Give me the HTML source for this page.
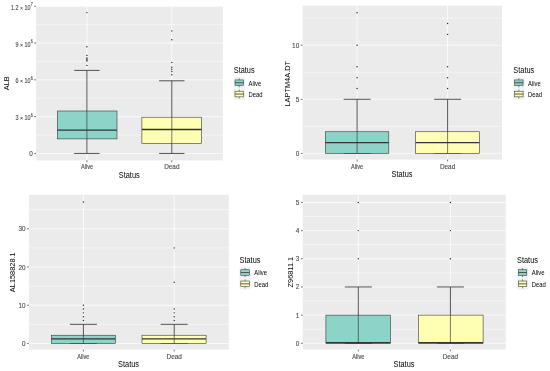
<!DOCTYPE html>
<html><head><meta charset="utf-8"><title>Boxplots</title>
<style>
html,body{margin:0;padding:0;background:#fff}
svg{display:block;filter:blur(0.3px)}
text{font-family:"Liberation Sans",sans-serif}
.tk{font-size:6.4px;fill:#4d4d4d;stroke:#4d4d4d;stroke-width:0.12px}
.ti{font-size:7.4px;fill:#000}
.lg{font-size:6.0px;fill:#000}
</style></head><body>
<svg width="550" height="371" viewBox="0 0 550 371">
<rect width="550" height="371" fill="#fff"/>
<rect x="36.1" y="6.2" width="186.8" height="154.2" fill="#ebebeb"/>
<line x1="36.1" x2="222.9" y1="135.05" y2="135.05" stroke="#fff" stroke-width="0.5"/>
<line x1="36.1" x2="222.9" y1="98.25" y2="98.25" stroke="#fff" stroke-width="0.5"/>
<line x1="36.1" x2="222.9" y1="61.45" y2="61.45" stroke="#fff" stroke-width="0.5"/>
<line x1="36.1" x2="222.9" y1="24.65" y2="24.65" stroke="#fff" stroke-width="0.5"/>
<line x1="36.1" x2="222.9" y1="153.45" y2="153.45" stroke="#fff" stroke-width="0.75"/>
<line x1="36.1" x2="222.9" y1="116.65" y2="116.65" stroke="#fff" stroke-width="0.75"/>
<line x1="36.1" x2="222.9" y1="79.85" y2="79.85" stroke="#fff" stroke-width="0.75"/>
<line x1="36.1" x2="222.9" y1="43.05" y2="43.05" stroke="#fff" stroke-width="0.75"/>
<line x1="36.1" x2="222.9" y1="6.25" y2="6.25" stroke="#fff" stroke-width="0.75"/>
<line x1="87.0" x2="87.0" y1="6.2" y2="160.4" stroke="#fff" stroke-width="0.8"/>
<line x1="171.8" x2="171.8" y1="6.2" y2="160.4" stroke="#fff" stroke-width="0.8"/>
<line x1="34.3" x2="36.1" y1="153.45" y2="153.45" stroke="#333" stroke-width="0.7"/>
<text x="32.7" y="155.95" text-anchor="end" class="tk">0</text>
<line x1="34.3" x2="36.1" y1="116.65" y2="116.65" stroke="#333" stroke-width="0.7"/>
<g transform="translate(36.1,120.25) scale(0.85,1.05)"><text y="0" class="tk"><tspan x="-20.65" text-anchor="end">3</tspan><tspan x="-17.18" text-anchor="middle" font-size="5.2">×</tspan><tspan x="-6.59" text-anchor="end">10</tspan><tspan x="-6.24" dy="-3.3" text-anchor="start" font-size="4.3">6</tspan></text></g>
<line x1="34.3" x2="36.1" y1="79.85" y2="79.85" stroke="#333" stroke-width="0.7"/>
<g transform="translate(36.1,83.45) scale(0.85,1.05)"><text y="0" class="tk"><tspan x="-20.65" text-anchor="end">6</tspan><tspan x="-17.18" text-anchor="middle" font-size="5.2">×</tspan><tspan x="-6.59" text-anchor="end">10</tspan><tspan x="-6.24" dy="-3.3" text-anchor="start" font-size="4.3">6</tspan></text></g>
<line x1="34.3" x2="36.1" y1="43.05" y2="43.05" stroke="#333" stroke-width="0.7"/>
<g transform="translate(36.1,46.65) scale(0.85,1.05)"><text y="0" class="tk"><tspan x="-20.65" text-anchor="end">9</tspan><tspan x="-17.18" text-anchor="middle" font-size="5.2">×</tspan><tspan x="-6.59" text-anchor="end">10</tspan><tspan x="-6.24" dy="-3.3" text-anchor="start" font-size="4.3">6</tspan></text></g>
<line x1="34.3" x2="36.1" y1="6.25" y2="6.25" stroke="#333" stroke-width="0.7"/>
<g transform="translate(36.1,9.85) scale(0.85,1.05)"><text y="0" class="tk"><tspan x="-20.65" text-anchor="end">1.2</tspan><tspan x="-17.18" text-anchor="middle" font-size="5.2">×</tspan><tspan x="-6.59" text-anchor="end">10</tspan><tspan x="-6.24" dy="-3.3" text-anchor="start" font-size="4.3">7</tspan></text></g>
<line x1="87.0" x2="87.0" y1="160.4" y2="162.2" stroke="#333" stroke-width="0.7"/>
<text x="87.0" y="169.4" text-anchor="middle" class="tk" textLength="12.2" lengthAdjust="spacingAndGlyphs">Alive</text>
<line x1="171.8" x2="171.8" y1="160.4" y2="162.2" stroke="#333" stroke-width="0.7"/>
<text x="171.8" y="169.4" text-anchor="middle" class="tk">Dead</text>
<text transform="translate(129.2,177.9) scale(1,1.1)" text-anchor="middle" class="ti">Status</text>
<text transform="translate(9.0,83.3) rotate(-90)" text-anchor="middle" class="ti">ALB</text>
<circle cx="86.9" cy="12.6" r="0.72" fill="#2a2a2a"/>
<circle cx="86.9" cy="46.7" r="0.72" fill="#2a2a2a"/>
<circle cx="86.9" cy="55.4" r="0.72" fill="#2a2a2a"/>
<circle cx="86.9" cy="58" r="0.72" fill="#2a2a2a"/>
<circle cx="86.9" cy="59" r="0.72" fill="#2a2a2a"/>
<circle cx="86.9" cy="60" r="0.72" fill="#2a2a2a"/>
<circle cx="86.9" cy="61" r="0.72" fill="#2a2a2a"/>
<circle cx="86.9" cy="65.4" r="0.72" fill="#2a2a2a"/>
<path d="M74.2 70.4H99.6M86.9 70.4V153.45M74.2 153.45H99.6" stroke="#2b2b2b" stroke-width="0.8" fill="none"/>
<rect x="57.3" y="111" width="59.7" height="27.9" fill="#8dd3c7" stroke="#333" stroke-width="0.58"/>
<line x1="86.9" x2="86.9" y1="111" y2="138.9" stroke="#333" stroke-width="0.65"/>
<line x1="57.3" x2="117" y1="130.2" y2="130.2" stroke="#333" stroke-width="1.3"/>
<circle cx="171.8" cy="30.9" r="0.72" fill="#2a2a2a"/>
<circle cx="171.8" cy="39.8" r="0.72" fill="#2a2a2a"/>
<circle cx="171.8" cy="62.4" r="0.72" fill="#2a2a2a"/>
<circle cx="171.8" cy="67.2" r="0.72" fill="#2a2a2a"/>
<circle cx="171.8" cy="69.3" r="0.72" fill="#2a2a2a"/>
<circle cx="171.8" cy="71.5" r="0.72" fill="#2a2a2a"/>
<circle cx="171.8" cy="74.7" r="0.72" fill="#2a2a2a"/>
<path d="M159.1 80.8H184.5M171.8 80.8V153.45M159.1 153.45H184.5" stroke="#2b2b2b" stroke-width="0.8" fill="none"/>
<rect x="141.9" y="117.2" width="59.8" height="26.1" fill="#ffffb3" stroke="#333" stroke-width="0.58"/>
<line x1="171.8" x2="171.8" y1="117.2" y2="143.3" stroke="#333" stroke-width="0.65"/>
<line x1="141.9" x2="201.7" y1="129.5" y2="129.5" stroke="#333" stroke-width="1.3"/>
<text transform="translate(233.7,73.0) scale(1,1.1)" class="ti">Status</text>
<rect x="233.6" y="77.1" width="11.3" height="11.3" fill="#f2f2f2"/>
<line x1="239.25" x2="239.25" y1="78.23" y2="87.27" stroke="#333" stroke-width="0.55"/>
<rect x="235.01" y="79.92" width="8.48" height="5.65" fill="#8dd3c7" stroke="#333" stroke-width="0.55"/>
<line x1="235.01" x2="243.49" y1="82.75" y2="82.75" stroke="#333" stroke-width="0.8"/>
<text transform="translate(248.5,85.65) scale(0.98,1.12)" class="lg">Alive</text>
<rect x="233.6" y="88.4" width="11.3" height="11.3" fill="#f2f2f2"/>
<line x1="239.25" x2="239.25" y1="89.53" y2="98.57" stroke="#333" stroke-width="0.55"/>
<rect x="235.01" y="91.22" width="8.48" height="5.65" fill="#ffffb3" stroke="#333" stroke-width="0.55"/>
<line x1="235.01" x2="243.49" y1="94.05" y2="94.05" stroke="#333" stroke-width="0.8"/>
<text transform="translate(248.5,96.95) scale(0.98,1.12)" class="lg">Dead</text>
<rect x="302.6" y="5.7" width="199.4" height="153.9" fill="#ebebeb"/>
<line x1="302.6" x2="502" y1="126.35" y2="126.35" stroke="#fff" stroke-width="0.5"/>
<line x1="302.6" x2="502" y1="72.25" y2="72.25" stroke="#fff" stroke-width="0.5"/>
<line x1="302.6" x2="502" y1="18.15" y2="18.15" stroke="#fff" stroke-width="0.5"/>
<line x1="302.6" x2="502" y1="153.4" y2="153.4" stroke="#fff" stroke-width="0.75"/>
<line x1="302.6" x2="502" y1="99.3" y2="99.3" stroke="#fff" stroke-width="0.75"/>
<line x1="302.6" x2="502" y1="45.2" y2="45.2" stroke="#fff" stroke-width="0.75"/>
<line x1="357.1" x2="357.1" y1="5.7" y2="159.6" stroke="#fff" stroke-width="0.8"/>
<line x1="447.6" x2="447.6" y1="5.7" y2="159.6" stroke="#fff" stroke-width="0.8"/>
<line x1="300.8" x2="302.6" y1="153.4" y2="153.4" stroke="#333" stroke-width="0.7"/>
<text x="299.2" y="155.9" text-anchor="end" class="tk">0</text>
<line x1="300.8" x2="302.6" y1="99.3" y2="99.3" stroke="#333" stroke-width="0.7"/>
<text x="299.2" y="101.8" text-anchor="end" class="tk">5</text>
<line x1="300.8" x2="302.6" y1="45.2" y2="45.2" stroke="#333" stroke-width="0.7"/>
<text x="299.2" y="47.7" text-anchor="end" class="tk">10</text>
<line x1="357.1" x2="357.1" y1="159.6" y2="161.4" stroke="#333" stroke-width="0.7"/>
<text x="357.1" y="168.6" text-anchor="middle" class="tk" textLength="12.2" lengthAdjust="spacingAndGlyphs">Alive</text>
<line x1="447.6" x2="447.6" y1="159.6" y2="161.4" stroke="#333" stroke-width="0.7"/>
<text x="447.6" y="168.6" text-anchor="middle" class="tk">Dead</text>
<text transform="translate(402.0,177.1) scale(1,1.1)" text-anchor="middle" class="ti">Status</text>
<text transform="translate(289.5,83.75) rotate(-90)" text-anchor="middle" class="ti">LAPTM4A.DT</text>
<circle cx="357.1" cy="12.74" r="0.72" fill="#2a2a2a"/>
<circle cx="357.1" cy="45.2" r="0.72" fill="#2a2a2a"/>
<circle cx="357.1" cy="66.84" r="0.72" fill="#2a2a2a"/>
<circle cx="357.1" cy="77.66" r="0.72" fill="#2a2a2a"/>
<circle cx="357.1" cy="88.48" r="0.72" fill="#2a2a2a"/>
<path d="M343.6 99.3H370.6M357.1 99.3V153.4M343.6 153.4H370.6" stroke="#2b2b2b" stroke-width="0.8" fill="none"/>
<rect x="325.3" y="131.76" width="63.5" height="21.64" fill="#8dd3c7" stroke="#333" stroke-width="0.58"/>
<line x1="357.1" x2="357.1" y1="131.76" y2="153.4" stroke="#333" stroke-width="0.65"/>
<line x1="325.3" x2="388.8" y1="142.58" y2="142.58" stroke="#333" stroke-width="1.3"/>
<circle cx="447.6" cy="23.56" r="0.72" fill="#2a2a2a"/>
<circle cx="447.6" cy="34.38" r="0.72" fill="#2a2a2a"/>
<circle cx="447.6" cy="66.84" r="0.72" fill="#2a2a2a"/>
<circle cx="447.6" cy="77.66" r="0.72" fill="#2a2a2a"/>
<circle cx="447.6" cy="88.48" r="0.72" fill="#2a2a2a"/>
<path d="M434.1 99.3H461.1M447.6 99.3V153.4M434.1 153.4H461.1" stroke="#2b2b2b" stroke-width="0.8" fill="none"/>
<rect x="415.7" y="131.76" width="63.6" height="21.64" fill="#ffffb3" stroke="#333" stroke-width="0.58"/>
<line x1="447.6" x2="447.6" y1="131.76" y2="153.4" stroke="#333" stroke-width="0.65"/>
<line x1="415.7" x2="479.3" y1="142.58" y2="142.58" stroke="#333" stroke-width="1.3"/>
<text transform="translate(513.3,73.0) scale(1,1.1)" class="ti">Status</text>
<rect x="513.2" y="77.1" width="11.3" height="11.3" fill="#f2f2f2"/>
<line x1="518.85" x2="518.85" y1="78.23" y2="87.27" stroke="#333" stroke-width="0.55"/>
<rect x="514.61" y="79.92" width="8.48" height="5.65" fill="#8dd3c7" stroke="#333" stroke-width="0.55"/>
<line x1="514.61" x2="523.09" y1="82.75" y2="82.75" stroke="#333" stroke-width="0.8"/>
<text transform="translate(528.1,85.65) scale(0.98,1.12)" class="lg">Alive</text>
<rect x="513.2" y="88.4" width="11.3" height="11.3" fill="#f2f2f2"/>
<line x1="518.85" x2="518.85" y1="89.53" y2="98.57" stroke="#333" stroke-width="0.55"/>
<rect x="514.61" y="91.22" width="8.48" height="5.65" fill="#ffffb3" stroke="#333" stroke-width="0.55"/>
<line x1="514.61" x2="523.09" y1="94.05" y2="94.05" stroke="#333" stroke-width="0.8"/>
<text transform="translate(528.1,96.95) scale(0.98,1.12)" class="lg">Dead</text>
<rect x="28.9" y="194.8" width="199.95" height="154.8" fill="#ebebeb"/>
<line x1="28.9" x2="228.85" y1="324.34" y2="324.34" stroke="#fff" stroke-width="0.5"/>
<line x1="28.9" x2="228.85" y1="286.12" y2="286.12" stroke="#fff" stroke-width="0.5"/>
<line x1="28.9" x2="228.85" y1="247.9" y2="247.9" stroke="#fff" stroke-width="0.5"/>
<line x1="28.9" x2="228.85" y1="209.68" y2="209.68" stroke="#fff" stroke-width="0.5"/>
<line x1="28.9" x2="228.85" y1="343.45" y2="343.45" stroke="#fff" stroke-width="0.75"/>
<line x1="28.9" x2="228.85" y1="305.23" y2="305.23" stroke="#fff" stroke-width="0.75"/>
<line x1="28.9" x2="228.85" y1="267.01" y2="267.01" stroke="#fff" stroke-width="0.75"/>
<line x1="28.9" x2="228.85" y1="228.79" y2="228.79" stroke="#fff" stroke-width="0.75"/>
<line x1="83.4" x2="83.4" y1="194.8" y2="349.6" stroke="#fff" stroke-width="0.8"/>
<line x1="174.2" x2="174.2" y1="194.8" y2="349.6" stroke="#fff" stroke-width="0.8"/>
<line x1="27.1" x2="28.9" y1="343.45" y2="343.45" stroke="#333" stroke-width="0.7"/>
<text x="25.5" y="345.95" text-anchor="end" class="tk">0</text>
<line x1="27.1" x2="28.9" y1="305.23" y2="305.23" stroke="#333" stroke-width="0.7"/>
<text x="25.5" y="307.73" text-anchor="end" class="tk">10</text>
<line x1="27.1" x2="28.9" y1="267.01" y2="267.01" stroke="#333" stroke-width="0.7"/>
<text x="25.5" y="269.51" text-anchor="end" class="tk">20</text>
<line x1="27.1" x2="28.9" y1="228.79" y2="228.79" stroke="#333" stroke-width="0.7"/>
<text x="25.5" y="231.29" text-anchor="end" class="tk">30</text>
<line x1="83.4" x2="83.4" y1="349.6" y2="351.4" stroke="#333" stroke-width="0.7"/>
<text x="83.4" y="358.6" text-anchor="middle" class="tk" textLength="12.2" lengthAdjust="spacingAndGlyphs">Alive</text>
<line x1="174.2" x2="174.2" y1="349.6" y2="351.4" stroke="#333" stroke-width="0.7"/>
<text x="174.2" y="358.6" text-anchor="middle" class="tk">Dead</text>
<text transform="translate(128.57,367.1) scale(1,1.1)" text-anchor="middle" class="ti">Status</text>
<text transform="translate(15.2,272.2) rotate(-90)" text-anchor="middle" class="ti">AL158828.1</text>
<circle cx="83.4" cy="202.04" r="0.72" fill="#2a2a2a"/>
<circle cx="83.4" cy="305.23" r="0.72" fill="#2a2a2a"/>
<circle cx="83.4" cy="309.05" r="0.72" fill="#2a2a2a"/>
<circle cx="83.4" cy="312.87" r="0.72" fill="#2a2a2a"/>
<circle cx="83.4" cy="316.7" r="0.72" fill="#2a2a2a"/>
<circle cx="83.4" cy="320.52" r="0.72" fill="#2a2a2a"/>
<path d="M69.9 324.34H96.9M83.4 324.34V343.45M69.9 343.45H96.9" stroke="#2b2b2b" stroke-width="0.8" fill="none"/>
<rect x="51.3" y="335.23" width="64.0" height="8.22" fill="#8dd3c7" stroke="#333" stroke-width="0.58"/>
<line x1="83.4" x2="83.4" y1="335.23" y2="343.45" stroke="#333" stroke-width="0.65"/>
<line x1="51.3" x2="115.3" y1="338.86" y2="338.86" stroke="#333" stroke-width="1.3"/>
<circle cx="174.2" cy="247.9" r="0.72" fill="#2a2a2a"/>
<circle cx="174.2" cy="282.3" r="0.72" fill="#2a2a2a"/>
<circle cx="174.2" cy="309.05" r="0.72" fill="#2a2a2a"/>
<circle cx="174.2" cy="312.87" r="0.72" fill="#2a2a2a"/>
<circle cx="174.2" cy="316.7" r="0.72" fill="#2a2a2a"/>
<circle cx="174.2" cy="320.52" r="0.72" fill="#2a2a2a"/>
<path d="M160.7 324.34H187.7M174.2 324.34V343.45M160.7 343.45H187.7" stroke="#2b2b2b" stroke-width="0.8" fill="none"/>
<rect x="142" y="335.23" width="64.1" height="8.22" fill="#ffffb3" stroke="#333" stroke-width="0.58"/>
<line x1="174.2" x2="174.2" y1="335.23" y2="343.45" stroke="#333" stroke-width="0.65"/>
<line x1="142" x2="206.1" y1="338.86" y2="338.86" stroke="#333" stroke-width="1.3"/>
<text transform="translate(239.5,262.8) scale(1,1.1)" class="ti">Status</text>
<rect x="239.4" y="266.9" width="11.3" height="11.3" fill="#f2f2f2"/>
<line x1="245.05" x2="245.05" y1="268.03" y2="277.07" stroke="#333" stroke-width="0.55"/>
<rect x="240.81" y="269.73" width="8.48" height="5.65" fill="#8dd3c7" stroke="#333" stroke-width="0.55"/>
<line x1="240.81" x2="249.29" y1="272.55" y2="272.55" stroke="#333" stroke-width="0.8"/>
<text transform="translate(254.3,275.45) scale(0.98,1.12)" class="lg">Alive</text>
<rect x="239.4" y="278.2" width="11.3" height="11.3" fill="#f2f2f2"/>
<line x1="245.05" x2="245.05" y1="279.33" y2="288.37" stroke="#333" stroke-width="0.55"/>
<rect x="240.81" y="281.03" width="8.48" height="5.65" fill="#ffffb3" stroke="#333" stroke-width="0.55"/>
<line x1="240.81" x2="249.29" y1="283.85" y2="283.85" stroke="#333" stroke-width="0.8"/>
<text transform="translate(254.3,286.75) scale(0.98,1.12)" class="lg">Dead</text>
<rect x="302.8" y="194.8" width="203.0" height="154.7" fill="#ebebeb"/>
<line x1="302.8" x2="505.8" y1="329.22" y2="329.22" stroke="#fff" stroke-width="0.5"/>
<line x1="302.8" x2="505.8" y1="301.05" y2="301.05" stroke="#fff" stroke-width="0.5"/>
<line x1="302.8" x2="505.8" y1="272.88" y2="272.88" stroke="#fff" stroke-width="0.5"/>
<line x1="302.8" x2="505.8" y1="244.71" y2="244.71" stroke="#fff" stroke-width="0.5"/>
<line x1="302.8" x2="505.8" y1="216.53" y2="216.53" stroke="#fff" stroke-width="0.5"/>
<line x1="302.8" x2="505.8" y1="343.3" y2="343.3" stroke="#fff" stroke-width="0.75"/>
<line x1="302.8" x2="505.8" y1="315.13" y2="315.13" stroke="#fff" stroke-width="0.75"/>
<line x1="302.8" x2="505.8" y1="286.96" y2="286.96" stroke="#fff" stroke-width="0.75"/>
<line x1="302.8" x2="505.8" y1="258.79" y2="258.79" stroke="#fff" stroke-width="0.75"/>
<line x1="302.8" x2="505.8" y1="230.62" y2="230.62" stroke="#fff" stroke-width="0.75"/>
<line x1="302.8" x2="505.8" y1="202.45" y2="202.45" stroke="#fff" stroke-width="0.75"/>
<line x1="358.3" x2="358.3" y1="194.8" y2="349.5" stroke="#fff" stroke-width="0.8"/>
<line x1="450.4" x2="450.4" y1="194.8" y2="349.5" stroke="#fff" stroke-width="0.8"/>
<line x1="301.0" x2="302.8" y1="343.3" y2="343.3" stroke="#333" stroke-width="0.7"/>
<text x="299.4" y="345.8" text-anchor="end" class="tk">0</text>
<line x1="301.0" x2="302.8" y1="315.13" y2="315.13" stroke="#333" stroke-width="0.7"/>
<text x="299.4" y="317.63" text-anchor="end" class="tk">1</text>
<line x1="301.0" x2="302.8" y1="286.96" y2="286.96" stroke="#333" stroke-width="0.7"/>
<text x="299.4" y="289.46" text-anchor="end" class="tk">2</text>
<line x1="301.0" x2="302.8" y1="258.79" y2="258.79" stroke="#333" stroke-width="0.7"/>
<text x="299.4" y="261.29" text-anchor="end" class="tk">3</text>
<line x1="301.0" x2="302.8" y1="230.62" y2="230.62" stroke="#333" stroke-width="0.7"/>
<text x="299.4" y="233.12" text-anchor="end" class="tk">4</text>
<line x1="301.0" x2="302.8" y1="202.45" y2="202.45" stroke="#333" stroke-width="0.7"/>
<text x="299.4" y="204.95" text-anchor="end" class="tk">5</text>
<line x1="358.3" x2="358.3" y1="349.5" y2="351.3" stroke="#333" stroke-width="0.7"/>
<text x="358.3" y="358.5" text-anchor="middle" class="tk" textLength="12.2" lengthAdjust="spacingAndGlyphs">Alive</text>
<line x1="450.4" x2="450.4" y1="349.5" y2="351.3" stroke="#333" stroke-width="0.7"/>
<text x="450.4" y="358.5" text-anchor="middle" class="tk">Dead</text>
<text transform="translate(404.0,367.0) scale(1,1.1)" text-anchor="middle" class="ti">Status</text>
<text transform="translate(293.1,272.15) rotate(-90)" text-anchor="middle" class="ti">Z96811.1</text>
<circle cx="358.3" cy="202.45" r="0.72" fill="#2a2a2a"/>
<circle cx="358.3" cy="230.62" r="0.72" fill="#2a2a2a"/>
<circle cx="358.3" cy="258.79" r="0.72" fill="#2a2a2a"/>
<path d="M344.8 286.96H371.8M358.3 286.96V343.3M344.8 343.3H371.8" stroke="#2b2b2b" stroke-width="0.8" fill="none"/>
<rect x="325.9" y="315.13" width="64.5" height="28.02" fill="#8dd3c7" stroke="#333" stroke-width="0.58"/>
<line x1="358.3" x2="358.3" y1="315.13" y2="343.15" stroke="#333" stroke-width="0.65"/>
<line x1="325.9" x2="390.4" y1="342.75" y2="342.75" stroke="#333" stroke-width="1.3"/>
<circle cx="450.4" cy="202.45" r="0.72" fill="#2a2a2a"/>
<circle cx="450.4" cy="230.62" r="0.72" fill="#2a2a2a"/>
<circle cx="450.4" cy="258.79" r="0.72" fill="#2a2a2a"/>
<path d="M436.9 286.96H463.9M450.4 286.96V343.3M436.9 343.3H463.9" stroke="#2b2b2b" stroke-width="0.8" fill="none"/>
<rect x="418.6" y="315.13" width="64.5" height="28.02" fill="#ffffb3" stroke="#333" stroke-width="0.58"/>
<line x1="450.4" x2="450.4" y1="315.13" y2="343.15" stroke="#333" stroke-width="0.65"/>
<line x1="418.6" x2="483.1" y1="342.75" y2="342.75" stroke="#333" stroke-width="1.3"/>
<text transform="translate(517.0,262.8) scale(1,1.1)" class="ti">Status</text>
<rect x="516.9" y="266.9" width="11.3" height="11.3" fill="#f2f2f2"/>
<line x1="522.55" x2="522.55" y1="268.03" y2="277.07" stroke="#333" stroke-width="0.55"/>
<rect x="518.31" y="269.73" width="8.48" height="5.65" fill="#8dd3c7" stroke="#333" stroke-width="0.55"/>
<line x1="518.31" x2="526.79" y1="272.55" y2="272.55" stroke="#333" stroke-width="0.8"/>
<text transform="translate(531.8,275.45) scale(0.98,1.12)" class="lg">Alive</text>
<rect x="516.9" y="278.2" width="11.3" height="11.3" fill="#f2f2f2"/>
<line x1="522.55" x2="522.55" y1="279.33" y2="288.37" stroke="#333" stroke-width="0.55"/>
<rect x="518.31" y="281.03" width="8.48" height="5.65" fill="#ffffb3" stroke="#333" stroke-width="0.55"/>
<line x1="518.31" x2="526.79" y1="283.85" y2="283.85" stroke="#333" stroke-width="0.8"/>
<text transform="translate(531.8,286.75) scale(0.98,1.12)" class="lg">Dead</text>
</svg>
</body></html>
